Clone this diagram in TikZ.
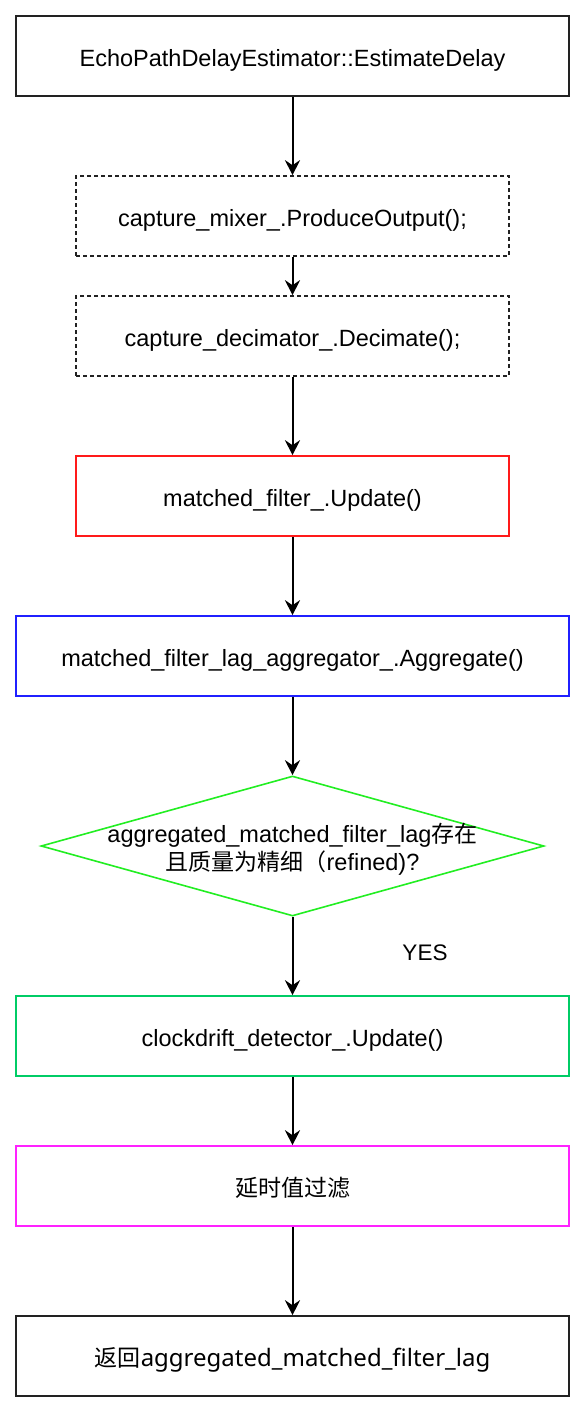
\documentclass[tikz,border=0pt]{standalone}
\usepackage{fontspec}
\setmainfont{Liberation Sans}
\newfontfamily\cjk{Noto Sans CJK SC}
\newfontfamily\notosans{Noto Sans}
\usetikzlibrary{shapes.geometric,arrows.meta}
\definecolor{cred}{HTML}{FF1A1A}
\definecolor{cblue}{HTML}{2020FF}
\definecolor{clime}{HTML}{22EE22}
\definecolor{cgreen}{HTML}{00CC66}
\definecolor{cmag}{HTML}{FF22FF}
\definecolor{cdark}{HTML}{222222}
\tikzset{
  base/.style={draw=cdark, line width=1.6pt, rectangle, inner sep=0pt, minimum height=80pt, font=\fontsize{23.5}{28}\selectfont, text=black, text height=21pt, text depth=0pt},
  wide/.style={base, minimum width=553pt},
  narrow/.style={base, minimum width=433pt},
  dashbox/.style={narrow, dash pattern=on 4pt off 3pt},
  conn/.style={line width=2pt, draw=black, -{Stealth[length=15pt,width=15pt,inset=5pt]}},
}
\begin{document}
\begin{tikzpicture}[x=1pt,y=-1pt]
\useasboundingbox[fill=white] (0,0) rectangle (586,1414);
\node[wide] (n1) at (292.5,56) {EchoPathDelayEstimator::EstimateDelay};
\node[dashbox] (n2) at (292.5,216) {capture\_mixer\_.ProduceOutput();};
\node[dashbox] (n3) at (292.5,336) {capture\_decimator\_.Decimate();};
\node[narrow, draw=cred] (n4) at (292.5,496) {matched\_filter\_.Update()};
\node[wide, draw=cblue] (n5) at (292.5,656) {matched\_filter\_lag\_aggregator\_.Aggregate()};
\node[diamond, draw=clime, line width=1.6pt, inner sep=0pt, minimum width=503pt, minimum height=140pt] (d) at (292.5,846) {};
\node[font=\fontsize{23.5}{28}\selectfont, align=center, inner sep=0pt] (dt) at (292.5,849) {aggregated\_matched\_filter\_lag{\cjk\fontsize{23}{28}\selectfont 存在}\\{\cjk\fontsize{23}{28}\selectfont 且质量为精细（}refined)?};
\node[font=\fontsize{22.5}{27}\selectfont, inner sep=0pt] (yes) at (425,953) {YES};
\node[wide, draw=cgreen] (n6) at (292.5,1036) {clockdrift\_detector\_.Update()};
\node[wide, draw=cmag] (n7) at (292.5,1186) {\cjk\fontsize{23}{28}\selectfont 延时值过滤};
\node[wide] (n8) at (292.5,1356) {{\cjk\fontsize{23}{28}\selectfont 返回}{\notosans\fontsize{24}{28}\selectfont aggregated\_matched\_filter\_lag}};
\draw[conn] (n1) -- (n2);
\draw[conn] (n2) -- (n3);
\draw[conn] (n3) -- (n4);
\draw[conn] (n4) -- (n5);
\draw[conn] (n5) -- (d);
\draw[conn] (d) -- (n6);
\draw[conn] (n6) -- (n7);
\draw[conn] (n7) -- (n8);
\end{tikzpicture}
\end{document}
